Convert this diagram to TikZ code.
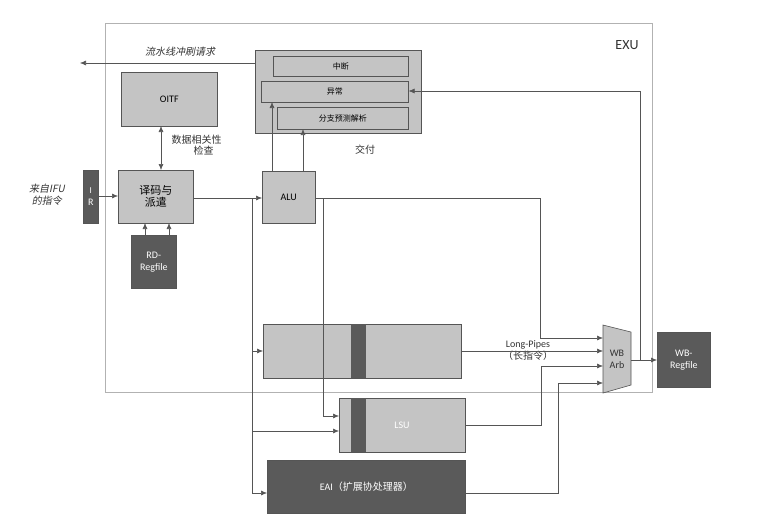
\documentclass[tikz,border=0pt]{standalone}
\usepackage{fontspec}
\setmainfont{Carlito}
\newfontfamily\cjk{Noto Sans CJK SC}
\newfontfamily\cjki[FakeSlant=0.2]{Noto Sans CJK SC}
\usetikzlibrary{arrows.meta}
\definecolor{lg}{HTML}{C4C4C4}
\definecolor{dg}{HTML}{5A5A5A}
\definecolor{ln}{HTML}{555555}
\tikzset{
 lbox/.style={draw=ln,fill=lg,line width=0.6pt},
 dbox/.style={draw=ln,fill=dg,line width=0.6pt},
 conn/.style={draw=ln,line width=0.6pt,-{Latex[length=6pt,width=5pt]}},
 plain/.style={draw=ln,line width=0.6pt},
 txt/.style={text=black!80,font=\fontsize{10}{12}\selectfont},
}
\begin{document}
\begin{tikzpicture}[x=1pt,y=-1pt]
\useasboundingbox (0,0) rectangle (757,525);
% EXU frame
\draw[black!30,line width=0.6pt] (105,23) rectangle (652,392);
\node[txt,font=\fontsize{14}{16}\selectfont] (exu) at (627,45) {EXU};
% commit
\draw[lbox] (255,50) rectangle (421,133);
\node[lbox,minimum width=135pt,minimum height=20pt,anchor=north west,inner sep=0] (int) at (273,56) {\cjk\fontsize{8}{10}\selectfont 中断};
\node[lbox,minimum width=147pt,minimum height=21pt,anchor=north west,inner sep=0] (exc) at (261,81) {\cjk\fontsize{8}{10}\selectfont 异常};
\node[lbox,minimum width=131pt,minimum height=22pt,anchor=north west,inner sep=0] (bpu) at (277,107) {\cjk\fontsize{8}{10}\selectfont 分支预测解析};
\node[txt] (jf) at (365,150) {\cjk 交付};
\coordinate (cl) at (255,63);
\coordinate (fl) at (80,63);
\draw[conn] (cl) -- (fl);
\node[txt] (flt) at (180,52) {\cjki 流水线冲刷请求};
% OITF
\node[lbox,minimum width=96pt,minimum height=54pt,anchor=north west,inner sep=0] (oitf) at (121,72) {\fontsize{10}{12}\selectfont OITF};
\node[txt,align=left,anchor=west] (dep) at (168,145) {\cjk 数据相关性\\[-1pt]\hspace*{2.2em}\cjk 检查};
% decode
\node[lbox,minimum width=75pt,minimum height=53pt,anchor=north west,inner sep=0,align=center] (dec) at (118,170) {\cjk\fontsize{11}{14}\selectfont 译码与\\\cjk\fontsize{11}{14}\selectfont 派遣};
\draw[plain,{Latex[length=6pt,width=5pt]}-{Latex[length=6pt,width=5pt]}] (161,126) -- (161,170);
% IR
\node[dbox,minimum width=15pt,minimum height=53pt,anchor=north west,inner sep=0,align=center,text=white] (ir) at (83,170) {\fontsize{9}{13}\selectfont I\\R};
\node[txt,align=center] (ifu) at (47,195) {\cjki 来自\textit{IFU}\\\cjki 的指令};
\draw[conn] (ir.east|-0,196) -- (dec.west|-0,196);
% RD regfile
\node[dbox,minimum width=45pt,minimum height=53pt,anchor=north west,inner sep=0,align=center,text=white] (rd) at (131,235) {\fontsize{10}{13}\selectfont RD-\\Regfile};
\draw[conn] (145,235) -- (145,223);
\draw[conn] (169,235) -- (169,223);
% ALU
\node[lbox,minimum width=53pt,minimum height=52pt,anchor=north west,inner sep=0] (alu) at (262,171) {\fontsize{10}{12}\selectfont ALU};
\draw[conn] (dec.east|-0,198) -- (alu.west|-0,198);
\draw[conn] (272,171) -- (272,102);
\draw[conn] (303,171) -- (303,129);
% long pipes
\node[lbox,minimum width=198pt,minimum height=54pt,anchor=north west,inner sep=0] (lp) at (263,324) {};
\fill[dg] (351,324.3) rectangle (366,377.7);
\node[txt,align=center] (lpt) at (528,351) {Long-Pipes\\\cjk（长指令）};
% LSU
\node[lbox,minimum width=126pt,minimum height=54pt,anchor=north west,inner sep=0] (lsu) at (339,398) {};
\fill[dg] (351,398.3) rectangle (366,451.7);
\node[text=white,font=\fontsize{10}{12}\selectfont] (lsut) at (402,425) {LSU};
% EAI
\node[dbox,minimum width=198pt,minimum height=53pt,anchor=north west,inner sep=0,text=white] (eai) at (267,460) {\fontsize{10}{12}\selectfont EAI\cjk（扩展协处理器）};
% branch lines from decode
\draw[plain] (252,198) -- (252,493);
\draw[conn] (252,351) -- (lp.west|-0,351);
\draw[conn] (252,431) -- (lsu.west|-0,431);
\draw[conn] (252,493) -- (eai.west|-0,493);
\draw[conn] (323,198) -- (323,416) -- (lsu.west|-0,416);
% WB arb
\draw[lbox] (603,325) -- (631,332) -- (631,385) -- (603,393) -- cycle;
\node[txt,align=center,inner sep=0] (wb) at (617,359) {WB\\Arb};
\coordinate (wbo) at (631,360);
\draw[conn] (alu.east|-0,198) -- (540,198) -- (540,338) -- (603,338);
\draw[conn] (lp.east|-0,351) -- (603,351);
\draw[conn] (lsu.east|-0,425) -- (541,425) -- (541,366) -- (603,366);
\draw[conn] (eai.east|-0,493) -- (558,493) -- (558,383) -- (603,383);
% WB regfile
\node[dbox,minimum width=53pt,minimum height=55pt,anchor=north west,inner sep=0,align=center,text=white] (wbr) at (657,332) {\fontsize{10}{13}\selectfont WB-\\Regfile};
\draw[conn] (wbo) -- (wbr.west|-0,360);
\draw[conn] (640,360) -- (640,91) -- (exc.east|-0,91);
\end{tikzpicture}
\end{document}
